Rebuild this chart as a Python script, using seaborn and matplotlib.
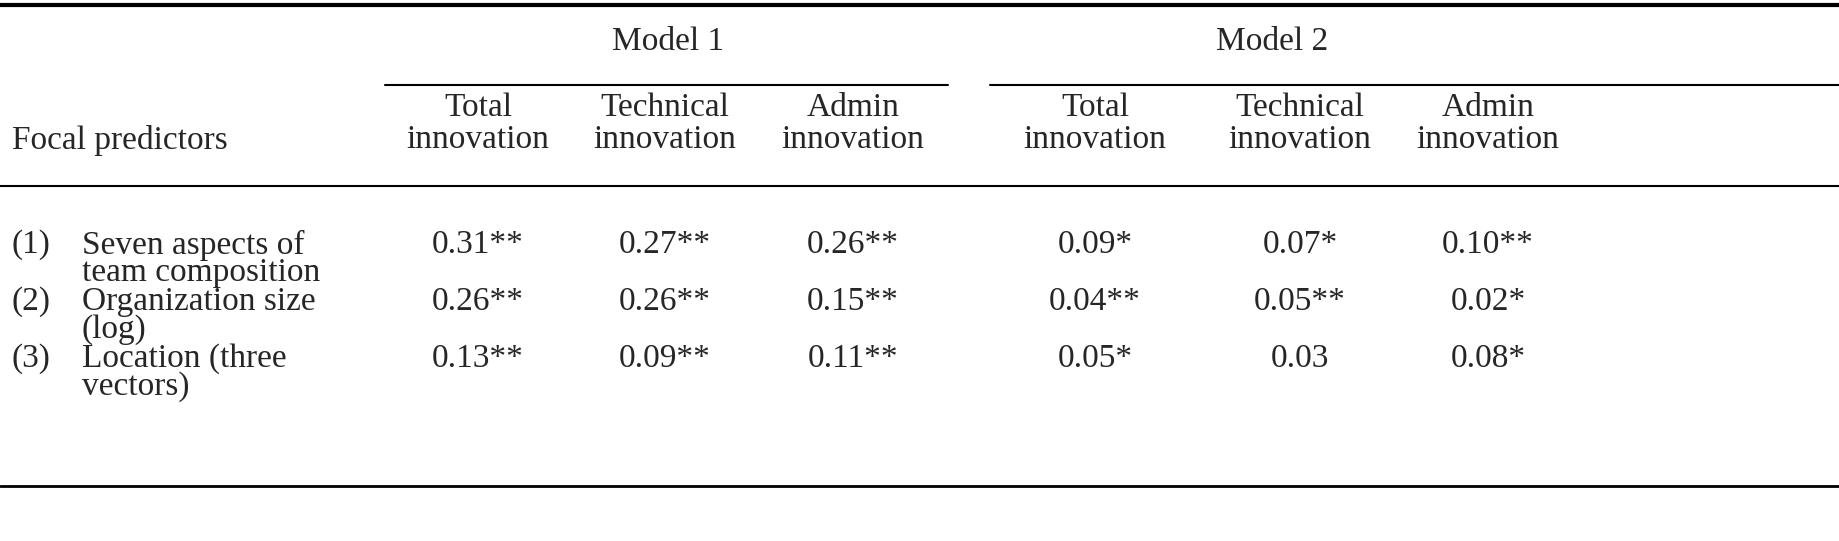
import matplotlib
matplotlib.use("Agg")
import matplotlib.pyplot as plt
import seaborn as sns

sns.set_style("white")
plt.rcParams['font.family'] = ['Liberation Serif', 'DejaVu Serif']

models = ["Model 1", "Model 2"]
outcomes = ["Total\ninnovation", "Technical\ninnovation", "Admin\ninnovation"]
row_nums = ["(1)", "(2)", "(3)"]
predictors = ["Seven aspects of\nteam composition", "Organization size\n(log)", "Location (three\nvectors)"]
values = [
    ["0.31**", "0.27**", "0.26**", "0.09*", "0.07*", "0.10**"],
    ["0.26**", "0.26**", "0.15**", "0.04**", "0.05**", "0.02*"],
    ["0.13**", "0.09**", "0.11**", "0.05*", "0.03", "0.08*"],
]

W, H = 1840, 541
fig = plt.figure(figsize=(W / 100, H / 100), dpi=100)
ax = fig.add_axes([0, 0, 1, 1])
ax.set_xlim(0, W)
ax.set_ylim(H, 0)
ax.axis("off")

fs = 24
col_x = [478, 665, 853, 1095, 1300, 1488]
ax.plot([0, W], [5, 5], color="black", lw=3)
ax.plot([385, 948], [85, 85], color="black", lw=1.5)
ax.plot([990, W], [85, 85], color="black", lw=1.5)
ax.plot([0, W], [186, 186], color="black", lw=1.5)
ax.plot([0, W], [486, 486], color="black", lw=2)

ax.text(668, 42, models[0], ha="center", va="center", fontsize=fs)
ax.text(1272, 42, models[1], ha="center", va="center", fontsize=fs)
for i, x in enumerate(col_x):
    l1, l2 = outcomes[i % 3].split("\n")
    ax.text(x, 108, l1, ha="center", va="center", fontsize=fs)
    ax.text(x, 140, l2, ha="center", va="center", fontsize=fs)
ax.text(12, 140, "Focal predictors", ha="left", va="center", fontsize=fs)

row_y = [245, 302, 359]
for r, y in enumerate(row_y):
    ax.text(12, y, row_nums[r], ha="left", va="center", fontsize=fs)
    l1, l2 = predictors[r].split("\n")
    ax.text(82, y, l1, ha="left", va="center", fontsize=fs)
    ax.text(82, y + 28, l2, ha="left", va="center", fontsize=fs)
    for c, x in enumerate(col_x):
        ax.text(x, y, values[r][c], ha="center", va="center", fontsize=fs)

fig.savefig("out.png", dpi=100)
